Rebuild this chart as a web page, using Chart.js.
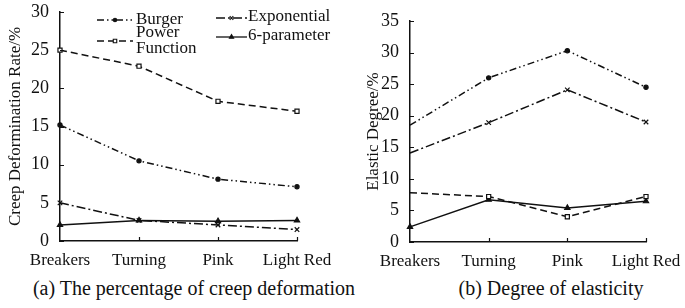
<!DOCTYPE html>
<html lang="en">
<head>
<meta charset="UTF-8">
<title>Creep deformation and elasticity</title>
<script src="https://cdn.jsdelivr.net/npm/chart.js"></script>
<style>
  body { margin: 0; background: #fff; width: 685px; height: 308px; overflow: hidden; position: relative; font-family: "Liberation Serif", serif; }
  .panel { position: absolute; top: 0; height: 272px; }
  #left { left: 0; width: 340px; }
  #right { left: 340px; width: 345px; }
  .caption { position: absolute; top: 277px; font-size: 20px; line-height: 22px; color: #111; white-space: nowrap; transform: translateX(-50%); }
</style>
</head>
<body>
<div class="panel" id="left"><canvas id="creepChart"></canvas></div>
<div class="panel" id="right"><canvas id="elasticChart"></canvas></div>
<div class="caption" style="left:194px">(a) The percentage of creep deformation</div>
<div class="caption" style="left:551px">(b) Degree of elasticity</div>

<script>
const stages = ['Breakers', 'Turning', 'Pink', 'Light Red'];
const seriesNames = ['Burger', 'Power Function', 'Exponential', '6-parameter'];

// (a) creep deformation rate, %
const creepBurger = [15.2, 10.5, 8.1, 7.1];
const creepPower = [25.0, 22.9, 18.3, 17.0];
const creepExp = [5.0, 2.7, 2.1, 1.5];
const creepSix = [2.1, 2.7, 2.6, 2.7];
const creepTicks = [0, 5, 10, 15, 20, 25, 30];

// (b) elastic degree, %
const elasticBurger = [18.5, 26.0, 30.3, 24.5];
const elasticPower = [7.8, 7.2, 4.0, 7.2];
const elasticExp = [14.1, 18.9, 24.1, 19.0];
const elasticSix = [2.4, 6.7, 5.4, 6.45];
const elasticTicks = [0, 5, 10, 15, 20, 25, 30, 35];

const ink = '#111';
const fontFam = '"Liberation Serif", "Times New Roman", serif';

const looks = [
  { dash: [7, 3, 1.5, 3, 1.5, 3], style: 'circle', r: 2.1, filled: true },
  { dash: [7, 4], style: 'rect', r: 2.9, filled: false },
  { dash: [9, 3, 2, 3], style: 'crossRot', r: 3.2, filled: false },
  { dash: [], style: 'triangle', r: 3, filled: true }
];

function makeSet(i, data, hideFirst) {
  const lk = looks[i];
  return {
    label: seriesNames[i],
    data: data,
    borderColor: ink,
    borderWidth: 1.5,
    borderDash: lk.dash,
    pointStyle: lk.style,
    pointRadius: data.map((v, k) => (hideFirst && k === 0) ? 0 : lk.r),
    pointBorderColor: ink,
    pointBorderWidth: 1.2,
    pointBackgroundColor: lk.filled ? ink : '#fff',
    tension: 0
  };
}

// small marker for the hand drawn legend
function marker(ctx, lk, x, y) {
  ctx.save();
  ctx.setLineDash([]);
  ctx.lineWidth = 1.1;
  ctx.strokeStyle = ink;
  ctx.fillStyle = lk.filled ? ink : '#fff';
  const r = lk.r * 0.8;
  ctx.beginPath();
  if (lk.style === 'circle') {
    ctx.arc(x, y, r, 0, Math.PI * 2);
    ctx.fill(); ctx.stroke();
  } else if (lk.style === 'rect') {
    ctx.rect(x - r * 0.75, y - r * 0.75, r * 1.5, r * 1.5);
    ctx.fill(); ctx.stroke();
  } else if (lk.style === 'crossRot') {
    ctx.moveTo(x - r * 0.7, y - r * 0.7); ctx.lineTo(x + r * 0.7, y + r * 0.7);
    ctx.moveTo(x + r * 0.7, y - r * 0.7); ctx.lineTo(x - r * 0.7, y + r * 0.7);
    ctx.stroke();
  } else {
    ctx.moveTo(x, y - r); ctx.lineTo(x + r * 0.87, y + r * 0.5); ctx.lineTo(x - r * 0.87, y + r * 0.5);
    ctx.closePath(); ctx.fill(); ctx.stroke();
  }
  ctx.restore();
}

const legendSpots = [
  { x1: 97, x2: 133, y: 20, tx: 136, lines: [['Burger', 20]] },
  { x1: 97, x2: 133, y: 41, tx: 136, lines: [['Power', 33], ['Function', 49]] },
  { x1: 216, x2: 247, y: 18, tx: 248, lines: [['Exponential', 17]] },
  { x1: 216, x2: 247, y: 37, tx: 248, lines: [['6-parameter', 36]] }
];

const paperLegend = {
  id: 'paperLegend',
  afterDraw(chart) {
    const ctx = chart.ctx;
    ctx.save();
    legendSpots.forEach((s, i) => {
      const lk = looks[i];
      ctx.strokeStyle = ink;
      ctx.lineWidth = 1.3;
      ctx.setLineDash(lk.dash);
      ctx.beginPath();
      ctx.moveTo(s.x1, s.y);
      ctx.lineTo(s.x2, s.y);
      ctx.stroke();
      marker(ctx, lk, (s.x1 + s.x2) / 2, s.y);
      ctx.fillStyle = ink;
      ctx.font = '17px ' + fontFam;
      ctx.textBaseline = 'middle';
      ctx.textAlign = 'left';
      s.lines.forEach(l => ctx.fillText(l[0], s.tx, l[1]));
    });
    ctx.restore();
  }
};

// ticks pointing into the plot, like the printed figure
const inwardTicks = {
  id: 'inwardTicks',
  afterDraw(chart) {
    const ctx = chart.ctx;
    const xs = chart.scales.x, ys = chart.scales.y;
    ctx.save();
    ctx.strokeStyle = ink;
    ctx.lineWidth = 1.2;
    ctx.beginPath();
    ys.ticks.forEach(t => {
      const y = Math.round(ys.getPixelForValue(t.value)) + 0.5;
      ctx.moveTo(ys.right, y);
      ctx.lineTo(ys.right + 4, y);
    });
    for (let i = 1; i < stages.length; i++) {
      const x = Math.round(xs.getPixelForValue(i)) + 0.5;
      ctx.moveTo(x, xs.top);
      ctx.lineTo(x, xs.top - 4);
    }
    ctx.stroke();
    ctx.restore();
  }
};

function buildOptions(cfg) {
  return {
    responsive: true,
    maintainAspectRatio: false,
    animation: false,
    layout: { padding: { top: cfg.top, right: cfg.right, left: 0, bottom: 0 } },
    plugins: { legend: { display: false }, tooltip: { enabled: false } },
    scales: {
      x: {
        offset: false,
        grid: { display: false },
        border: { display: true, color: ink, width: 1.5 },
        ticks: { color: ink, padding: 1, maxRotation: 0, autoSkip: false, font: { family: fontFam, size: 17 } },
        afterFit: s => { s.height = cfg.xh; }
      },
      y: {
        min: cfg.ticks[0],
        max: cfg.ticks[cfg.ticks.length - 1],
        afterBuildTicks: s => { s.ticks = cfg.ticks.map(v => ({ value: v })); },
        grid: { display: false },
        border: { display: true, color: ink, width: 1.5 },
        ticks: { color: ink, padding: 3, font: { family: fontFam, size: 18, lineHeight: 1 } },
        title: {
          display: true,
          text: cfg.title,
          color: ink,
          padding: { top: cfg.titlePad, bottom: 0 },
          font: { family: fontFam, size: 17, lineHeight: 1 }
        },
        afterFit: s => { s.width = cfg.yw; }
      }
    }
  };
}

new Chart(document.getElementById('creepChart'), {
  type: 'line',
  data: {
    labels: stages,
    datasets: [
      makeSet(0, creepBurger, false),
      makeSet(1, creepPower, false),
      makeSet(2, creepExp, false),
      makeSet(3, creepSix, false)
    ]
  },
  options: buildOptions({ top: 8, right: 43, xh: 31, yw: 60, ticks: creepTicks, title: 'Creep Deformination Rate/%', titlePad: 7 }),
  plugins: [inwardTicks, paperLegend]
});

new Chart(document.getElementById('elasticChart'), {
  type: 'line',
  data: {
    labels: stages,
    datasets: [
      makeSet(0, elasticBurger, true),
      makeSet(1, elasticPower, true),
      makeSet(2, elasticExp, true),
      makeSet(3, elasticSix, false)
    ]
  },
  options: buildOptions({ top: 21, right: 39, xh: 30, yw: 70, ticks: elasticTicks, title: 'Elastic Degree/%', titlePad: 25 }),
  plugins: [inwardTicks]
});
</script>
</body>
</html>
